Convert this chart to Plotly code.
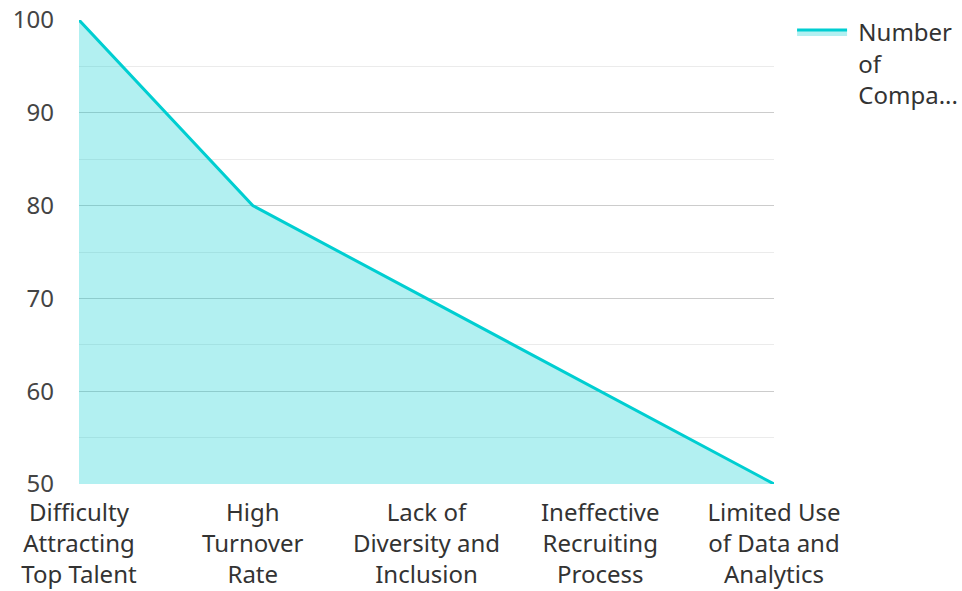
import plotly.graph_objects as go

categories = [
    "Difficulty<br>Attracting<br>Top Talent",
    "High<br>Turnover<br>Rate",
    "Lack of<br>Diversity and<br>Inclusion",
    "Ineffective<br>Recruiting<br>Process",
    "Limited Use<br>of Data and<br>Analytics",
]
companies = [100, 80, 70, 60, 50]
series_name = "&nbsp;Number<br>&nbsp;of<br>&nbsp;Compa..."
y_ticks = [50, 60, 70, 80, 90, 100]

FONT = "Noto Sans"
LINE = "#00CED1"

fig = go.Figure()
fig.add_trace(
    go.Scatter(
        x=list(range(len(categories))),
        y=companies,
        mode="lines",
        name=series_name,
        line=dict(color=LINE, width=3),
        fill="tozeroy",
        fillcolor="rgba(0,206,209,0.30)",
        hoverinfo="skip",
    )
)

fig.update_layout(
    width=962,
    height=591,
    margin=dict(l=79, r=188, t=20, b=107, autoexpand=False),
    paper_bgcolor="white",
    plot_bgcolor="white",
    font=dict(family=FONT, size=24, color="#333333"),
    showlegend=True,
    legend=dict(
        x=1.026,
        xanchor="left",
        y=1.0216,
        yanchor="top",
        valign="top",
        itemwidth=50,
        font=dict(family=FONT, size=24, color="#333333"),
        bgcolor="rgba(0,0,0,0)",
    ),
)

fig.update_xaxes(
    range=[0, len(categories) - 1],
    tickmode="array",
    tickvals=list(range(len(categories))),
    ticktext=categories,
    showgrid=False,
    zeroline=False,
    showline=False,
    ticks="",
    automargin=False,
    ticklabelstandoff=12,
    tickfont=dict(family=FONT, size=24, color="#333333"),
)

fig.update_yaxes(
    range=[50, 100],
    tickmode="array",
    tickvals=y_ticks,
    showgrid=True,
    gridcolor="#cccccc",
    gridwidth=1,
    minor=dict(dtick=5, showgrid=True, gridcolor="#ebebeb", gridwidth=1),
    zeroline=False,
    showline=False,
    ticks="",
    automargin=False,
    ticklabelstandoff=24,
    tickfont=dict(family=FONT, size=24, color="#444444"),
)

fig.write_html("out.html")
